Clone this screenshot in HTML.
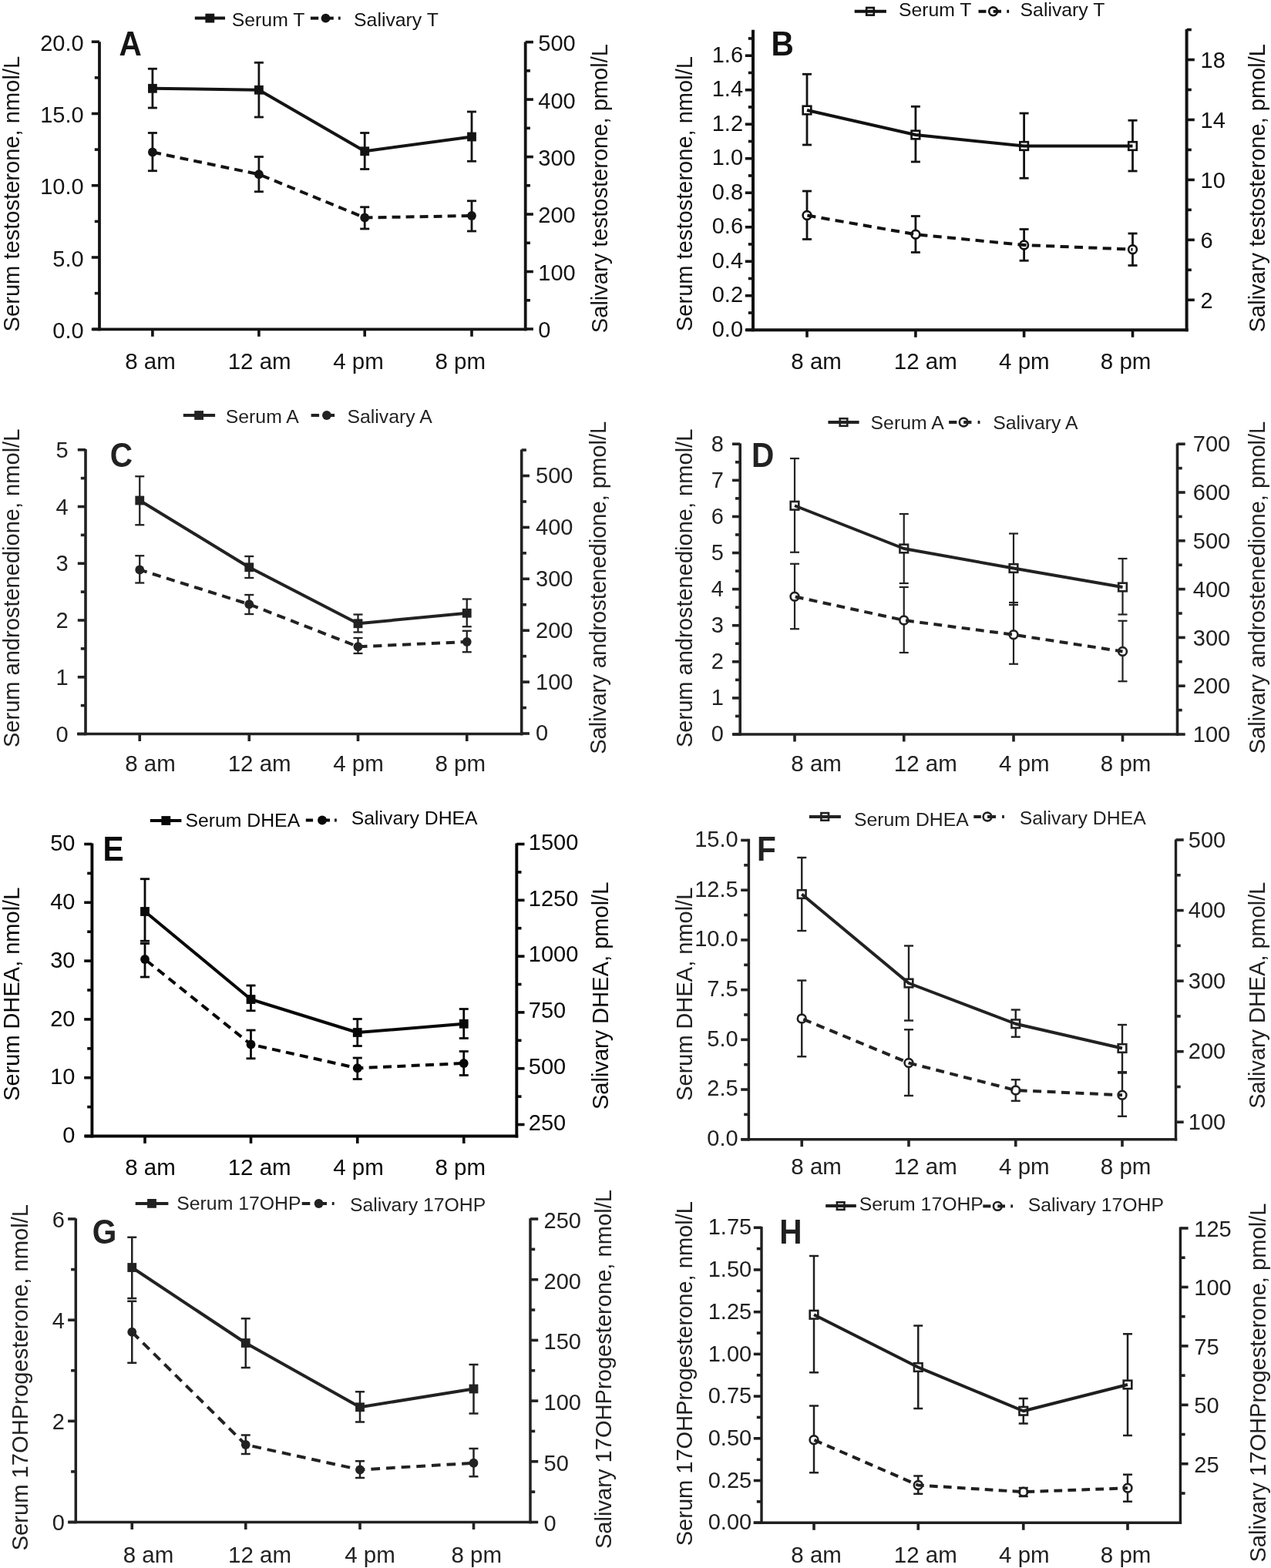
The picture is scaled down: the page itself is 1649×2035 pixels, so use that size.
<!DOCTYPE html>
<html><head><meta charset="utf-8"><title>Figure</title>
<style>
html,body{margin:0;padding:0;background:#fff;}
svg{display:block;}
text{font-family:"Liberation Sans",Arial,Helvetica,sans-serif;fill:currentColor;stroke:none;}
</style></head>
<body>
<svg width="1649" height="2035" viewBox="0 0 1649 2035">
<rect width="1649" height="2035" fill="#fff"/>
<g fill="none" stroke-linecap="butt">
<g stroke="#141414" style="color:#141414">
<line x1="129" y1="54.2" x2="129" y2="429.2" stroke-width="3.8"/>
<line x1="681.7" y1="54.6" x2="681.7" y2="429.2" stroke-width="3.8"/>
<line x1="120" y1="427.3" x2="683.6" y2="427.3" stroke-width="3.8"/>
<line x1="118.8" y1="427.3" x2="129" y2="427.3" stroke-width="3.6"/>
<line x1="118.8" y1="334.02" x2="129" y2="334.02" stroke-width="3.6"/>
<line x1="118.8" y1="240.75" x2="129" y2="240.75" stroke-width="3.6"/>
<line x1="118.8" y1="147.47" x2="129" y2="147.47" stroke-width="3.6"/>
<line x1="118.8" y1="54.2" x2="129" y2="54.2" stroke-width="3.6"/>
<line x1="122.8" y1="380.66" x2="129" y2="380.66" stroke-width="3.6"/>
<line x1="122.8" y1="287.39" x2="129" y2="287.39" stroke-width="3.6"/>
<line x1="122.8" y1="194.11" x2="129" y2="194.11" stroke-width="3.6"/>
<line x1="122.8" y1="100.84" x2="129" y2="100.84" stroke-width="3.6"/>
<line x1="681.7" y1="427" x2="691.9" y2="427" stroke-width="3.6"/>
<line x1="681.7" y1="352.52" x2="691.9" y2="352.52" stroke-width="3.6"/>
<line x1="681.7" y1="278.04" x2="691.9" y2="278.04" stroke-width="3.6"/>
<line x1="681.7" y1="203.56" x2="691.9" y2="203.56" stroke-width="3.6"/>
<line x1="681.7" y1="129.08" x2="691.9" y2="129.08" stroke-width="3.6"/>
<line x1="681.7" y1="54.6" x2="691.9" y2="54.6" stroke-width="3.6"/>
<line x1="681.7" y1="389.76" x2="687.9" y2="389.76" stroke-width="3.6"/>
<line x1="681.7" y1="315.28" x2="687.9" y2="315.28" stroke-width="3.6"/>
<line x1="681.7" y1="240.8" x2="687.9" y2="240.8" stroke-width="3.6"/>
<line x1="681.7" y1="166.32" x2="687.9" y2="166.32" stroke-width="3.6"/>
<line x1="681.7" y1="91.84" x2="687.9" y2="91.84" stroke-width="3.6"/>
<line x1="197.9" y1="427.3" x2="197.9" y2="436.8" stroke-width="3.6"/>
<line x1="335.9" y1="427.3" x2="335.9" y2="436.8" stroke-width="3.6"/>
<line x1="473.2" y1="427.3" x2="473.2" y2="436.8" stroke-width="3.6"/>
<line x1="612" y1="427.3" x2="612" y2="436.8" stroke-width="3.6"/>
<text x="108.6" y="438.85" font-size="29" text-anchor="end">0.0</text>
<text x="108.6" y="345.57" font-size="29" text-anchor="end">5.0</text>
<text x="108.6" y="252.3" font-size="29" text-anchor="end">10.0</text>
<text x="108.6" y="159.02" font-size="29" text-anchor="end">15.0</text>
<text x="108.6" y="65.75" font-size="29" text-anchor="end">20.0</text>
<text x="698.34" y="438.45" font-size="29">0</text>
<text x="698.34" y="363.97" font-size="29">100</text>
<text x="698.34" y="289.49" font-size="29">200</text>
<text x="698.34" y="215.01" font-size="29">300</text>
<text x="698.34" y="140.53" font-size="29">400</text>
<text x="698.34" y="66.05" font-size="29">500</text>
<text x="162.27" y="479" font-size="29.5">8 am</text>
<text x="295.69" y="479" font-size="29.5">12 am</text>
<text x="432.26" y="479" font-size="29.5">4 pm</text>
<text x="564.47" y="479" font-size="29.5">8 pm</text>
<text transform="translate(24.6,430.41) rotate(-90)" font-size="29.11">Serum testosterone, nmol/L</text>
<text transform="translate(787.9,432.21) rotate(-90)" font-size="29.1">Salivary testosterone, pmol/L</text>
<text transform="translate(154.49,71.9) scale(0.91,1)" font-size="44.6" font-weight="bold">A</text>
<line x1="252.8" y1="23.6" x2="292" y2="23.6" stroke-width="4"/>
<rect x="266.4" y="17.7" width="11.8" height="11.8" fill="currentColor" stroke="none"/>
<text x="300.78" y="34.3" font-size="24.8">Serum T</text>
<line x1="402.9" y1="23.6" x2="413.2" y2="23.6" stroke-width="4" stroke-linecap="butt"/>
<line x1="422.5" y1="23.6" x2="432.8" y2="23.6" stroke-width="4"/>
<circle cx="422.5" cy="23.6" r="5.9" fill="currentColor" stroke="none"/>
<line x1="438.9" y1="23.6" x2="441.7" y2="23.6" stroke-width="4"/>
<text x="459.08" y="34.3" font-size="24.8">Salivary T</text>
<line x1="197.9" y1="89.25" x2="197.9" y2="140" stroke-width="2.8"/>
<line x1="191.9" y1="89.25" x2="203.9" y2="89.25" stroke-width="2.8"/>
<line x1="191.9" y1="140" x2="203.9" y2="140" stroke-width="2.8"/>
<line x1="335.9" y1="81.25" x2="335.9" y2="152" stroke-width="2.8"/>
<line x1="329.9" y1="81.25" x2="341.9" y2="81.25" stroke-width="2.8"/>
<line x1="329.9" y1="152" x2="341.9" y2="152" stroke-width="2.8"/>
<line x1="473.2" y1="172.5" x2="473.2" y2="219.5" stroke-width="2.8"/>
<line x1="467.2" y1="172.5" x2="479.2" y2="172.5" stroke-width="2.8"/>
<line x1="467.2" y1="219.5" x2="479.2" y2="219.5" stroke-width="2.8"/>
<line x1="612" y1="145" x2="612" y2="209.25" stroke-width="2.8"/>
<line x1="606" y1="145" x2="618" y2="145" stroke-width="2.8"/>
<line x1="606" y1="209.25" x2="618" y2="209.25" stroke-width="2.8"/>
<line x1="197.9" y1="172.5" x2="197.9" y2="221.75" stroke-width="2.8"/>
<line x1="191.9" y1="172.5" x2="203.9" y2="172.5" stroke-width="2.8"/>
<line x1="191.9" y1="221.75" x2="203.9" y2="221.75" stroke-width="2.8"/>
<line x1="335.9" y1="203.5" x2="335.9" y2="248.75" stroke-width="2.8"/>
<line x1="329.9" y1="203.5" x2="341.9" y2="203.5" stroke-width="2.8"/>
<line x1="329.9" y1="248.75" x2="341.9" y2="248.75" stroke-width="2.8"/>
<line x1="473.2" y1="268.75" x2="473.2" y2="297" stroke-width="2.8"/>
<line x1="467.2" y1="268.75" x2="479.2" y2="268.75" stroke-width="2.8"/>
<line x1="467.2" y1="297" x2="479.2" y2="297" stroke-width="2.8"/>
<line x1="612" y1="260.75" x2="612" y2="300" stroke-width="2.8"/>
<line x1="606" y1="260.75" x2="618" y2="260.75" stroke-width="2.8"/>
<line x1="606" y1="300" x2="618" y2="300" stroke-width="2.8"/>
<rect x="192" y="108.9" width="11.8" height="11.8" fill="currentColor" stroke="none"/>
<rect x="330" y="110.85" width="11.8" height="11.8" fill="currentColor" stroke="none"/>
<rect x="467.3" y="190.35" width="11.8" height="11.8" fill="currentColor" stroke="none"/>
<rect x="606.1" y="171.6" width="11.8" height="11.8" fill="currentColor" stroke="none"/>
<polyline points="197.9,114.8 335.9,116.75 473.2,196.25 612,177.5" stroke-width="4.0" stroke-linejoin="round"/>
<circle cx="197.9" cy="197.5" r="5.9" fill="currentColor" stroke="none"/>
<circle cx="335.9" cy="226.25" r="5.9" fill="currentColor" stroke="none"/>
<circle cx="473.2" cy="282.5" r="5.9" fill="currentColor" stroke="none"/>
<circle cx="612" cy="280" r="5.9" fill="currentColor" stroke="none"/>
<polyline points="197.9,197.5 335.9,226.25 473.2,282.5 612,280" stroke-width="4.0" stroke-linejoin="round" stroke-dasharray="10.92,7.1" stroke-dashoffset="17.65"/>
</g>
<g stroke="#121212" style="color:#121212">
<line x1="977" y1="38.75" x2="977" y2="430.25" stroke-width="4"/>
<line x1="1539.6" y1="38" x2="1539.6" y2="430.25" stroke-width="4"/>
<line x1="967.75" y1="428.25" x2="1541.6" y2="428.25" stroke-width="4"/>
<line x1="966.8" y1="428.25" x2="977" y2="428.25" stroke-width="3.6"/>
<line x1="966.8" y1="383.74" x2="977" y2="383.74" stroke-width="3.6"/>
<line x1="966.8" y1="339.24" x2="977" y2="339.24" stroke-width="3.6"/>
<line x1="966.8" y1="294.73" x2="977" y2="294.73" stroke-width="3.6"/>
<line x1="966.8" y1="250.22" x2="977" y2="250.22" stroke-width="3.6"/>
<line x1="966.8" y1="205.72" x2="977" y2="205.72" stroke-width="3.6"/>
<line x1="966.8" y1="161.21" x2="977" y2="161.21" stroke-width="3.6"/>
<line x1="966.8" y1="116.71" x2="977" y2="116.71" stroke-width="3.6"/>
<line x1="966.8" y1="72.2" x2="977" y2="72.2" stroke-width="3.6"/>
<line x1="970.8" y1="406" x2="977" y2="406" stroke-width="3.6"/>
<line x1="970.8" y1="361.49" x2="977" y2="361.49" stroke-width="3.6"/>
<line x1="970.8" y1="316.98" x2="977" y2="316.98" stroke-width="3.6"/>
<line x1="970.8" y1="272.48" x2="977" y2="272.48" stroke-width="3.6"/>
<line x1="970.8" y1="227.97" x2="977" y2="227.97" stroke-width="3.6"/>
<line x1="970.8" y1="183.47" x2="977" y2="183.47" stroke-width="3.6"/>
<line x1="970.8" y1="138.96" x2="977" y2="138.96" stroke-width="3.6"/>
<line x1="970.8" y1="94.45" x2="977" y2="94.45" stroke-width="3.6"/>
<line x1="970.8" y1="49.95" x2="977" y2="49.95" stroke-width="3.6"/>
<line x1="1539.6" y1="389.28" x2="1549.8" y2="389.28" stroke-width="3.6"/>
<line x1="1539.6" y1="311.33" x2="1549.8" y2="311.33" stroke-width="3.6"/>
<line x1="1539.6" y1="233.39" x2="1549.8" y2="233.39" stroke-width="3.6"/>
<line x1="1539.6" y1="155.44" x2="1549.8" y2="155.44" stroke-width="3.6"/>
<line x1="1539.6" y1="77.5" x2="1549.8" y2="77.5" stroke-width="3.6"/>
<line x1="1539.6" y1="350.31" x2="1545.8" y2="350.31" stroke-width="3.6"/>
<line x1="1539.6" y1="272.36" x2="1545.8" y2="272.36" stroke-width="3.6"/>
<line x1="1539.6" y1="194.42" x2="1545.8" y2="194.42" stroke-width="3.6"/>
<line x1="1539.6" y1="116.47" x2="1545.8" y2="116.47" stroke-width="3.6"/>
<line x1="1539.6" y1="38.53" x2="1545.8" y2="38.53" stroke-width="3.6"/>
<line x1="1047" y1="428.25" x2="1047" y2="437.75" stroke-width="3.6"/>
<line x1="1187.9" y1="428.25" x2="1187.9" y2="437.75" stroke-width="3.6"/>
<line x1="1328.6" y1="428.25" x2="1328.6" y2="437.75" stroke-width="3.6"/>
<line x1="1469.5" y1="428.25" x2="1469.5" y2="437.75" stroke-width="3.6"/>
<text x="964.06" y="436.85" font-size="29" text-anchor="end">0.0</text>
<text x="964.06" y="392.34" font-size="29" text-anchor="end">0.2</text>
<text x="964.06" y="347.84" font-size="29" text-anchor="end">0.4</text>
<text x="964.06" y="303.33" font-size="29" text-anchor="end">0.6</text>
<text x="964.06" y="258.82" font-size="29" text-anchor="end">0.8</text>
<text x="964.06" y="214.32" font-size="29" text-anchor="end">1.0</text>
<text x="964.06" y="169.81" font-size="29" text-anchor="end">1.2</text>
<text x="964.06" y="125.31" font-size="29" text-anchor="end">1.4</text>
<text x="964.06" y="80.8" font-size="29" text-anchor="end">1.6</text>
<text x="1557.58" y="399.78" font-size="29">2</text>
<text x="1557.58" y="321.83" font-size="29">6</text>
<text x="1557.58" y="243.89" font-size="29">10</text>
<text x="1557.58" y="165.94" font-size="29">14</text>
<text x="1557.58" y="88" font-size="29">18</text>
<text x="1026.37" y="479.1" font-size="29.5">8 am</text>
<text x="1159.79" y="479.1" font-size="29.5">12 am</text>
<text x="1296.06" y="479.1" font-size="29.5">4 pm</text>
<text x="1427.87" y="479.1" font-size="29.5">8 pm</text>
<text transform="translate(898.3,430.06) rotate(-90)" font-size="29.07">Serum testosterone, nmol/L</text>
<text transform="translate(1641,431.31) rotate(-90)" font-size="29.02">Salivary testosterone, pmol/L</text>
<text transform="translate(1000.46,71.75) scale(0.91,1)" font-size="44.6" font-weight="bold">B</text>
<line x1="1108.7" y1="14.8" x2="1149.9" y2="14.8" stroke-width="4"/>
<rect x="1124.2" y="10" width="9.6" height="9.6" fill="none" stroke-width="2.6"/>
<text x="1165.88" y="20.6" font-size="24.8">Serum T</text>
<line x1="1269.5" y1="14.8" x2="1279.4" y2="14.8" stroke-width="4" stroke-linecap="butt"/>
<line x1="1288.6" y1="14.8" x2="1299" y2="14.8" stroke-width="4"/>
<circle cx="1288.6" cy="14.8" r="5.4" fill="none" stroke-width="2.6"/>
<line x1="1306.3" y1="14.8" x2="1309.1" y2="14.8" stroke-width="4"/>
<text x="1323.58" y="20.6" font-size="24.8">Salivary T</text>
<line x1="1047" y1="96.25" x2="1047" y2="188" stroke-width="2.8"/>
<line x1="1041" y1="96.25" x2="1053" y2="96.25" stroke-width="2.8"/>
<line x1="1041" y1="188" x2="1053" y2="188" stroke-width="2.8"/>
<line x1="1187.9" y1="138.25" x2="1187.9" y2="210" stroke-width="2.8"/>
<line x1="1181.9" y1="138.25" x2="1193.9" y2="138.25" stroke-width="2.8"/>
<line x1="1181.9" y1="210" x2="1193.9" y2="210" stroke-width="2.8"/>
<line x1="1328.6" y1="147" x2="1328.6" y2="231.25" stroke-width="2.8"/>
<line x1="1322.6" y1="147" x2="1334.6" y2="147" stroke-width="2.8"/>
<line x1="1322.6" y1="231.25" x2="1334.6" y2="231.25" stroke-width="2.8"/>
<line x1="1469.5" y1="156.25" x2="1469.5" y2="222" stroke-width="2.8"/>
<line x1="1463.5" y1="156.25" x2="1475.5" y2="156.25" stroke-width="2.8"/>
<line x1="1463.5" y1="222" x2="1475.5" y2="222" stroke-width="2.8"/>
<line x1="1047" y1="248" x2="1047" y2="310.5" stroke-width="2.8"/>
<line x1="1041" y1="248" x2="1053" y2="248" stroke-width="2.8"/>
<line x1="1041" y1="310.5" x2="1053" y2="310.5" stroke-width="2.8"/>
<line x1="1187.9" y1="280.5" x2="1187.9" y2="327.5" stroke-width="2.8"/>
<line x1="1181.9" y1="280.5" x2="1193.9" y2="280.5" stroke-width="2.8"/>
<line x1="1181.9" y1="327.5" x2="1193.9" y2="327.5" stroke-width="2.8"/>
<line x1="1328.6" y1="297.5" x2="1328.6" y2="338.25" stroke-width="2.8"/>
<line x1="1322.6" y1="297.5" x2="1334.6" y2="297.5" stroke-width="2.8"/>
<line x1="1322.6" y1="338.25" x2="1334.6" y2="338.25" stroke-width="2.8"/>
<line x1="1469.5" y1="303" x2="1469.5" y2="344.5" stroke-width="2.8"/>
<line x1="1463.5" y1="303" x2="1475.5" y2="303" stroke-width="2.8"/>
<line x1="1463.5" y1="344.5" x2="1475.5" y2="344.5" stroke-width="2.8"/>
<rect x="1041.7" y="137.7" width="10.6" height="10.6" fill="#fff" stroke-width="2.6"/>
<rect x="1182.6" y="169.7" width="10.6" height="10.6" fill="#fff" stroke-width="2.6"/>
<rect x="1323.3" y="184.2" width="10.6" height="10.6" fill="#fff" stroke-width="2.6"/>
<rect x="1464.2" y="184.2" width="10.6" height="10.6" fill="#fff" stroke-width="2.6"/>
<polyline points="1047,143 1187.9,175 1328.6,189.5 1469.5,189.5" stroke-width="4.0" stroke-linejoin="round"/>
<circle cx="1047" cy="279.5" r="5.4" fill="#fff" stroke-width="2.6"/>
<circle cx="1187.9" cy="304.25" r="5.4" fill="#fff" stroke-width="2.6"/>
<circle cx="1328.6" cy="318" r="5.4" fill="#fff" stroke-width="2.6"/>
<circle cx="1469.5" cy="323.75" r="5.4" fill="#fff" stroke-width="2.6"/>
<polyline points="1047,279.5 1187.9,304.25 1328.6,318 1469.5,323.75" stroke-width="4.0" stroke-linejoin="round" stroke-dasharray="11.12,7.27" stroke-dashoffset="18.01"/>
</g>
<g stroke="#222222" style="color:#222222">
<line x1="111" y1="583" x2="111" y2="954.3" stroke-width="3.6"/>
<line x1="676.7" y1="583.5" x2="676.7" y2="954.3" stroke-width="3.6"/>
<line x1="100" y1="952.5" x2="678.5" y2="952.5" stroke-width="3.6"/>
<line x1="100.8" y1="952.5" x2="111" y2="952.5" stroke-width="3.6"/>
<line x1="100.8" y1="878.75" x2="111" y2="878.75" stroke-width="3.6"/>
<line x1="100.8" y1="805" x2="111" y2="805" stroke-width="3.6"/>
<line x1="100.8" y1="731.25" x2="111" y2="731.25" stroke-width="3.6"/>
<line x1="100.8" y1="657.5" x2="111" y2="657.5" stroke-width="3.6"/>
<line x1="100.8" y1="583.75" x2="111" y2="583.75" stroke-width="3.6"/>
<line x1="104.8" y1="915.62" x2="111" y2="915.62" stroke-width="3.6"/>
<line x1="104.8" y1="841.88" x2="111" y2="841.88" stroke-width="3.6"/>
<line x1="104.8" y1="768.12" x2="111" y2="768.12" stroke-width="3.6"/>
<line x1="104.8" y1="694.38" x2="111" y2="694.38" stroke-width="3.6"/>
<line x1="104.8" y1="620.62" x2="111" y2="620.62" stroke-width="3.6"/>
<line x1="676.7" y1="952" x2="686.9" y2="952" stroke-width="3.6"/>
<line x1="676.7" y1="885.1" x2="686.9" y2="885.1" stroke-width="3.6"/>
<line x1="676.7" y1="818.2" x2="686.9" y2="818.2" stroke-width="3.6"/>
<line x1="676.7" y1="751.3" x2="686.9" y2="751.3" stroke-width="3.6"/>
<line x1="676.7" y1="684.4" x2="686.9" y2="684.4" stroke-width="3.6"/>
<line x1="676.7" y1="617.5" x2="686.9" y2="617.5" stroke-width="3.6"/>
<line x1="676.7" y1="918.55" x2="682.9" y2="918.55" stroke-width="3.6"/>
<line x1="676.7" y1="851.65" x2="682.9" y2="851.65" stroke-width="3.6"/>
<line x1="676.7" y1="784.75" x2="682.9" y2="784.75" stroke-width="3.6"/>
<line x1="676.7" y1="717.85" x2="682.9" y2="717.85" stroke-width="3.6"/>
<line x1="676.7" y1="650.95" x2="682.9" y2="650.95" stroke-width="3.6"/>
<line x1="676.7" y1="584.05" x2="682.9" y2="584.05" stroke-width="3.6"/>
<line x1="181.25" y1="952.5" x2="181.25" y2="962" stroke-width="3.6"/>
<line x1="323.25" y1="952.5" x2="323.25" y2="962" stroke-width="3.6"/>
<line x1="464.5" y1="952.5" x2="464.5" y2="962" stroke-width="3.6"/>
<line x1="605.75" y1="952.5" x2="605.75" y2="962" stroke-width="3.6"/>
<text x="88.69" y="962.7" font-size="29" text-anchor="end">0</text>
<text x="88.69" y="888.95" font-size="29" text-anchor="end">1</text>
<text x="88.69" y="815.2" font-size="29" text-anchor="end">2</text>
<text x="88.69" y="741.45" font-size="29" text-anchor="end">3</text>
<text x="88.69" y="667.7" font-size="29" text-anchor="end">4</text>
<text x="88.69" y="593.95" font-size="29" text-anchor="end">5</text>
<text x="695.09" y="961.4" font-size="29">0</text>
<text x="695.09" y="894.5" font-size="29">100</text>
<text x="695.09" y="827.6" font-size="29">200</text>
<text x="695.09" y="760.7" font-size="29">300</text>
<text x="695.09" y="693.8" font-size="29">400</text>
<text x="695.09" y="626.9" font-size="29">500</text>
<text x="162.27" y="1001.2" font-size="29.5">8 am</text>
<text x="295.69" y="1001.2" font-size="29.5">12 am</text>
<text x="432.26" y="1001.2" font-size="29.5">4 pm</text>
<text x="564.47" y="1001.2" font-size="29.5">8 pm</text>
<text transform="translate(24.6,970.06) rotate(-90)" font-size="29.05">Serum androstenedione, nmol/L</text>
<text transform="translate(786,978.81) rotate(-90)" font-size="29.12">Salivary androstenedione, pmol/L</text>
<text transform="translate(142.63,606.25) scale(0.91,1)" font-size="44.6" font-weight="bold">C</text>
<line x1="237.8" y1="539" x2="279.1" y2="539" stroke-width="4"/>
<rect x="252.2" y="533.1" width="11.8" height="11.8" fill="currentColor" stroke="none"/>
<text x="292.78" y="548.5" font-size="24.8">Serum A</text>
<line x1="403.6" y1="539" x2="414.1" y2="539" stroke-width="4" stroke-linecap="butt"/>
<line x1="423.9" y1="539" x2="434.1" y2="539" stroke-width="4"/>
<circle cx="423.9" cy="539" r="5.9" fill="currentColor" stroke="none"/>
<text x="450.48" y="548.5" font-size="24.8">Salivary A</text>
<line x1="181.25" y1="618.25" x2="181.25" y2="681.25" stroke-width="2.3"/>
<line x1="175.25" y1="618.25" x2="187.25" y2="618.25" stroke-width="2.3"/>
<line x1="175.25" y1="681.25" x2="187.25" y2="681.25" stroke-width="2.3"/>
<line x1="323.25" y1="722" x2="323.25" y2="750" stroke-width="2.3"/>
<line x1="317.25" y1="722" x2="329.25" y2="722" stroke-width="2.3"/>
<line x1="317.25" y1="750" x2="329.25" y2="750" stroke-width="2.3"/>
<line x1="464.5" y1="797.5" x2="464.5" y2="820.5" stroke-width="2.3"/>
<line x1="458.5" y1="797.5" x2="470.5" y2="797.5" stroke-width="2.3"/>
<line x1="458.5" y1="820.5" x2="470.5" y2="820.5" stroke-width="2.3"/>
<line x1="605.75" y1="777.5" x2="605.75" y2="813.25" stroke-width="2.3"/>
<line x1="599.75" y1="777.5" x2="611.75" y2="777.5" stroke-width="2.3"/>
<line x1="599.75" y1="813.25" x2="611.75" y2="813.25" stroke-width="2.3"/>
<line x1="181.25" y1="721.25" x2="181.25" y2="756.5" stroke-width="2.3"/>
<line x1="175.25" y1="721.25" x2="187.25" y2="721.25" stroke-width="2.3"/>
<line x1="175.25" y1="756.5" x2="187.25" y2="756.5" stroke-width="2.3"/>
<line x1="323.25" y1="772" x2="323.25" y2="797" stroke-width="2.3"/>
<line x1="317.25" y1="772" x2="329.25" y2="772" stroke-width="2.3"/>
<line x1="317.25" y1="797" x2="329.25" y2="797" stroke-width="2.3"/>
<line x1="464.5" y1="828" x2="464.5" y2="848" stroke-width="2.3"/>
<line x1="458.5" y1="828" x2="470.5" y2="828" stroke-width="2.3"/>
<line x1="458.5" y1="848" x2="470.5" y2="848" stroke-width="2.3"/>
<line x1="605.75" y1="818.75" x2="605.75" y2="846.25" stroke-width="2.3"/>
<line x1="599.75" y1="818.75" x2="611.75" y2="818.75" stroke-width="2.3"/>
<line x1="599.75" y1="846.25" x2="611.75" y2="846.25" stroke-width="2.3"/>
<rect x="175.35" y="643.6" width="11.8" height="11.8" fill="currentColor" stroke="none"/>
<rect x="317.35" y="730.35" width="11.8" height="11.8" fill="currentColor" stroke="none"/>
<rect x="458.6" y="803.35" width="11.8" height="11.8" fill="currentColor" stroke="none"/>
<rect x="599.85" y="789.85" width="11.8" height="11.8" fill="currentColor" stroke="none"/>
<polyline points="181.25,649.5 323.25,736.25 464.5,809.25 605.75,795.75" stroke-width="4.0" stroke-linejoin="round"/>
<circle cx="181.25" cy="739.5" r="5.9" fill="currentColor" stroke="none"/>
<circle cx="323.25" cy="784.25" r="5.9" fill="currentColor" stroke="none"/>
<circle cx="464.5" cy="839.25" r="5.9" fill="currentColor" stroke="none"/>
<circle cx="605.75" cy="833" r="5.9" fill="currentColor" stroke="none"/>
<polyline points="181.25,739.5 323.25,784.25 464.5,839.25 605.75,833" stroke-width="4.0" stroke-linejoin="round" stroke-dasharray="11.23,7.69" stroke-dashoffset="1.46"/>
</g>
<g stroke="#222222" style="color:#222222">
<line x1="960.2" y1="575.5" x2="960.2" y2="954.8" stroke-width="3.6"/>
<line x1="1527.5" y1="575.5" x2="1527.5" y2="954.8" stroke-width="3.6"/>
<line x1="951" y1="953" x2="1529.3" y2="953" stroke-width="3.6"/>
<line x1="950" y1="953" x2="960.2" y2="953" stroke-width="3.6"/>
<line x1="950" y1="905.91" x2="960.2" y2="905.91" stroke-width="3.6"/>
<line x1="950" y1="858.81" x2="960.2" y2="858.81" stroke-width="3.6"/>
<line x1="950" y1="811.72" x2="960.2" y2="811.72" stroke-width="3.6"/>
<line x1="950" y1="764.62" x2="960.2" y2="764.62" stroke-width="3.6"/>
<line x1="950" y1="717.53" x2="960.2" y2="717.53" stroke-width="3.6"/>
<line x1="950" y1="670.44" x2="960.2" y2="670.44" stroke-width="3.6"/>
<line x1="950" y1="623.34" x2="960.2" y2="623.34" stroke-width="3.6"/>
<line x1="950" y1="576.25" x2="960.2" y2="576.25" stroke-width="3.6"/>
<line x1="954" y1="929.45" x2="960.2" y2="929.45" stroke-width="3.6"/>
<line x1="954" y1="882.36" x2="960.2" y2="882.36" stroke-width="3.6"/>
<line x1="954" y1="835.27" x2="960.2" y2="835.27" stroke-width="3.6"/>
<line x1="954" y1="788.17" x2="960.2" y2="788.17" stroke-width="3.6"/>
<line x1="954" y1="741.08" x2="960.2" y2="741.08" stroke-width="3.6"/>
<line x1="954" y1="693.98" x2="960.2" y2="693.98" stroke-width="3.6"/>
<line x1="954" y1="646.89" x2="960.2" y2="646.89" stroke-width="3.6"/>
<line x1="954" y1="599.8" x2="960.2" y2="599.8" stroke-width="3.6"/>
<line x1="1527.5" y1="953" x2="1537.7" y2="953" stroke-width="3.6"/>
<line x1="1527.5" y1="890.21" x2="1537.7" y2="890.21" stroke-width="3.6"/>
<line x1="1527.5" y1="827.42" x2="1537.7" y2="827.42" stroke-width="3.6"/>
<line x1="1527.5" y1="764.62" x2="1537.7" y2="764.62" stroke-width="3.6"/>
<line x1="1527.5" y1="701.83" x2="1537.7" y2="701.83" stroke-width="3.6"/>
<line x1="1527.5" y1="639.04" x2="1537.7" y2="639.04" stroke-width="3.6"/>
<line x1="1527.5" y1="576.25" x2="1537.7" y2="576.25" stroke-width="3.6"/>
<line x1="1527.5" y1="921.6" x2="1533.7" y2="921.6" stroke-width="3.6"/>
<line x1="1527.5" y1="858.81" x2="1533.7" y2="858.81" stroke-width="3.6"/>
<line x1="1527.5" y1="796.02" x2="1533.7" y2="796.02" stroke-width="3.6"/>
<line x1="1527.5" y1="733.23" x2="1533.7" y2="733.23" stroke-width="3.6"/>
<line x1="1527.5" y1="670.44" x2="1533.7" y2="670.44" stroke-width="3.6"/>
<line x1="1527.5" y1="607.65" x2="1533.7" y2="607.65" stroke-width="3.6"/>
<line x1="1031" y1="953" x2="1031" y2="962.5" stroke-width="3.6"/>
<line x1="1172.75" y1="953" x2="1172.75" y2="962.5" stroke-width="3.6"/>
<line x1="1315" y1="953" x2="1315" y2="962.5" stroke-width="3.6"/>
<line x1="1456.5" y1="953" x2="1456.5" y2="962.5" stroke-width="3.6"/>
<text x="938.94" y="962.25" font-size="29" text-anchor="end">0</text>
<text x="938.94" y="915.16" font-size="29" text-anchor="end">1</text>
<text x="938.94" y="868.06" font-size="29" text-anchor="end">2</text>
<text x="938.94" y="820.97" font-size="29" text-anchor="end">3</text>
<text x="938.94" y="773.88" font-size="29" text-anchor="end">4</text>
<text x="938.94" y="726.78" font-size="29" text-anchor="end">5</text>
<text x="938.94" y="679.69" font-size="29" text-anchor="end">6</text>
<text x="938.94" y="632.59" font-size="29" text-anchor="end">7</text>
<text x="938.94" y="585.5" font-size="29" text-anchor="end">8</text>
<text x="1547.8" y="963.15" font-size="29">100</text>
<text x="1547.8" y="900.36" font-size="29">200</text>
<text x="1547.8" y="837.57" font-size="29">300</text>
<text x="1547.8" y="774.77" font-size="29">400</text>
<text x="1547.8" y="711.98" font-size="29">500</text>
<text x="1547.8" y="649.19" font-size="29">600</text>
<text x="1547.8" y="586.4" font-size="29">700</text>
<text x="1026.37" y="1000.6" font-size="29.5">8 am</text>
<text x="1159.79" y="1000.6" font-size="29.5">12 am</text>
<text x="1296.06" y="1000.6" font-size="29.5">4 pm</text>
<text x="1427.87" y="1000.6" font-size="29.5">8 pm</text>
<text transform="translate(898.3,970.06) rotate(-90)" font-size="29.05">Serum androstenedione, nmol/L</text>
<text transform="translate(1640.5,978.31) rotate(-90)" font-size="29.09">Salivary androstenedione, pmol/L</text>
<text transform="translate(975.11,606.25) scale(0.91,1)" font-size="44.6" font-weight="bold">D</text>
<line x1="1074.4" y1="548" x2="1114.6" y2="548" stroke-width="4"/>
<rect x="1089.7" y="543.2" width="9.6" height="9.6" fill="none" stroke-width="2.6"/>
<text x="1129.58" y="557.3" font-size="24.8">Serum A</text>
<line x1="1231.1" y1="548" x2="1241.4" y2="548" stroke-width="4" stroke-linecap="butt"/>
<line x1="1250.2" y1="548" x2="1260.4" y2="548" stroke-width="4"/>
<circle cx="1250.2" cy="548" r="5.4" fill="none" stroke-width="2.6"/>
<line x1="1268.6" y1="548" x2="1271.4" y2="548" stroke-width="4"/>
<text x="1288.18" y="557.3" font-size="24.8">Salivary A</text>
<line x1="1031" y1="595" x2="1031" y2="716.75" stroke-width="2.2"/>
<line x1="1025" y1="595" x2="1037" y2="595" stroke-width="2.2"/>
<line x1="1025" y1="716.75" x2="1037" y2="716.75" stroke-width="2.2"/>
<line x1="1172.75" y1="667" x2="1172.75" y2="757" stroke-width="2.2"/>
<line x1="1166.75" y1="667" x2="1178.75" y2="667" stroke-width="2.2"/>
<line x1="1166.75" y1="757" x2="1178.75" y2="757" stroke-width="2.2"/>
<line x1="1315" y1="692.5" x2="1315" y2="785" stroke-width="2.2"/>
<line x1="1309" y1="692.5" x2="1321" y2="692.5" stroke-width="2.2"/>
<line x1="1309" y1="785" x2="1321" y2="785" stroke-width="2.2"/>
<line x1="1456.5" y1="725" x2="1456.5" y2="797.5" stroke-width="2.2"/>
<line x1="1450.5" y1="725" x2="1462.5" y2="725" stroke-width="2.2"/>
<line x1="1450.5" y1="797.5" x2="1462.5" y2="797.5" stroke-width="2.2"/>
<line x1="1031" y1="731.75" x2="1031" y2="816.25" stroke-width="2.2"/>
<line x1="1025" y1="731.75" x2="1037" y2="731.75" stroke-width="2.2"/>
<line x1="1025" y1="816.25" x2="1037" y2="816.25" stroke-width="2.2"/>
<line x1="1172.75" y1="762" x2="1172.75" y2="847" stroke-width="2.2"/>
<line x1="1166.75" y1="762" x2="1178.75" y2="762" stroke-width="2.2"/>
<line x1="1166.75" y1="847" x2="1178.75" y2="847" stroke-width="2.2"/>
<line x1="1315" y1="782" x2="1315" y2="861.75" stroke-width="2.2"/>
<line x1="1309" y1="782" x2="1321" y2="782" stroke-width="2.2"/>
<line x1="1309" y1="861.75" x2="1321" y2="861.75" stroke-width="2.2"/>
<line x1="1456.5" y1="805.75" x2="1456.5" y2="884.25" stroke-width="2.2"/>
<line x1="1450.5" y1="805.75" x2="1462.5" y2="805.75" stroke-width="2.2"/>
<line x1="1450.5" y1="884.25" x2="1462.5" y2="884.25" stroke-width="2.2"/>
<rect x="1025.7" y="650.95" width="10.6" height="10.6" fill="#fff" stroke-width="2.6"/>
<rect x="1167.45" y="706.7" width="10.6" height="10.6" fill="#fff" stroke-width="2.6"/>
<rect x="1309.7" y="732.2" width="10.6" height="10.6" fill="#fff" stroke-width="2.6"/>
<rect x="1451.2" y="756.7" width="10.6" height="10.6" fill="#fff" stroke-width="2.6"/>
<polyline points="1031,656.25 1172.75,712 1315,737.5 1456.5,762" stroke-width="4.0" stroke-linejoin="round"/>
<circle cx="1031" cy="774.25" r="5.4" fill="#fff" stroke-width="2.6"/>
<circle cx="1172.75" cy="805" r="5.4" fill="#fff" stroke-width="2.6"/>
<circle cx="1315" cy="823.75" r="5.4" fill="#fff" stroke-width="2.6"/>
<circle cx="1456.5" cy="845.5" r="5.4" fill="#fff" stroke-width="2.6"/>
<polyline points="1031,774.25 1172.75,805 1315,823.75 1456.5,845.5" stroke-width="4.0" stroke-linejoin="round" stroke-dasharray="10.87,7.45" stroke-dashoffset="17.51"/>
</g>
<g stroke="#080808" style="color:#080808">
<line x1="119.4" y1="1094.5" x2="119.4" y2="1476.45" stroke-width="3.9"/>
<line x1="670.3" y1="1094.5" x2="670.3" y2="1476.45" stroke-width="3.9"/>
<line x1="110" y1="1474.5" x2="672.25" y2="1474.5" stroke-width="3.9"/>
<line x1="109.2" y1="1474.5" x2="119.4" y2="1474.5" stroke-width="3.6"/>
<line x1="109.2" y1="1398.7" x2="119.4" y2="1398.7" stroke-width="3.6"/>
<line x1="109.2" y1="1322.9" x2="119.4" y2="1322.9" stroke-width="3.6"/>
<line x1="109.2" y1="1247.1" x2="119.4" y2="1247.1" stroke-width="3.6"/>
<line x1="109.2" y1="1171.3" x2="119.4" y2="1171.3" stroke-width="3.6"/>
<line x1="109.2" y1="1095.5" x2="119.4" y2="1095.5" stroke-width="3.6"/>
<line x1="113.2" y1="1436.6" x2="119.4" y2="1436.6" stroke-width="3.6"/>
<line x1="113.2" y1="1360.8" x2="119.4" y2="1360.8" stroke-width="3.6"/>
<line x1="113.2" y1="1285" x2="119.4" y2="1285" stroke-width="3.6"/>
<line x1="113.2" y1="1209.2" x2="119.4" y2="1209.2" stroke-width="3.6"/>
<line x1="113.2" y1="1133.4" x2="119.4" y2="1133.4" stroke-width="3.6"/>
<line x1="670.3" y1="1459.5" x2="680.5" y2="1459.5" stroke-width="3.6"/>
<line x1="670.3" y1="1386.7" x2="680.5" y2="1386.7" stroke-width="3.6"/>
<line x1="670.3" y1="1313.9" x2="680.5" y2="1313.9" stroke-width="3.6"/>
<line x1="670.3" y1="1241.1" x2="680.5" y2="1241.1" stroke-width="3.6"/>
<line x1="670.3" y1="1168.3" x2="680.5" y2="1168.3" stroke-width="3.6"/>
<line x1="670.3" y1="1095.5" x2="680.5" y2="1095.5" stroke-width="3.6"/>
<line x1="670.3" y1="1423.1" x2="676.5" y2="1423.1" stroke-width="3.6"/>
<line x1="670.3" y1="1350.3" x2="676.5" y2="1350.3" stroke-width="3.6"/>
<line x1="670.3" y1="1277.5" x2="676.5" y2="1277.5" stroke-width="3.6"/>
<line x1="670.3" y1="1204.7" x2="676.5" y2="1204.7" stroke-width="3.6"/>
<line x1="670.3" y1="1131.9" x2="676.5" y2="1131.9" stroke-width="3.6"/>
<line x1="188" y1="1474.5" x2="188" y2="1484" stroke-width="3.6"/>
<line x1="325.5" y1="1474.5" x2="325.5" y2="1484" stroke-width="3.6"/>
<line x1="463.75" y1="1474.5" x2="463.75" y2="1484" stroke-width="3.6"/>
<line x1="601.75" y1="1474.5" x2="601.75" y2="1484" stroke-width="3.6"/>
<text x="97.48" y="1483.15" font-size="29" text-anchor="end">0</text>
<text x="97.48" y="1407.35" font-size="29" text-anchor="end">10</text>
<text x="97.48" y="1331.55" font-size="29" text-anchor="end">20</text>
<text x="97.48" y="1255.75" font-size="29" text-anchor="end">30</text>
<text x="97.48" y="1179.95" font-size="29" text-anchor="end">40</text>
<text x="97.48" y="1104.15" font-size="29" text-anchor="end">50</text>
<text x="685.83" y="1466.7" font-size="29">250</text>
<text x="685.83" y="1393.9" font-size="29">500</text>
<text x="685.83" y="1321.1" font-size="29">750</text>
<text x="685.83" y="1248.3" font-size="29">1000</text>
<text x="685.83" y="1175.5" font-size="29">1250</text>
<text x="685.83" y="1102.7" font-size="29">1500</text>
<text x="162.27" y="1524.7" font-size="29.5">8 am</text>
<text x="295.69" y="1524.7" font-size="29.5">12 am</text>
<text x="432.26" y="1524.7" font-size="29.5">4 pm</text>
<text x="564.47" y="1524.7" font-size="29.5">8 pm</text>
<text transform="translate(24.6,1428.8) rotate(-90)" font-size="28.99">Serum DHEA, nmol/L</text>
<text transform="translate(788.5,1440.06) rotate(-90)" font-size="29.05">Salivary DHEA, pmol/L</text>
<text transform="translate(133.61,1117) scale(0.91,1)" font-size="44.6" font-weight="bold">E</text>
<line x1="194.8" y1="1065" x2="235.4" y2="1065" stroke-width="4"/>
<rect x="209.4" y="1059.1" width="11.8" height="11.8" fill="currentColor" stroke="none"/>
<text x="240.38" y="1072.5" font-size="24.8">Serum DHEA</text>
<line x1="396.8" y1="1064.5" x2="406.1" y2="1064.5" stroke-width="4" stroke-linecap="butt"/>
<line x1="418" y1="1064.5" x2="428" y2="1064.5" stroke-width="4"/>
<circle cx="418" cy="1064.5" r="5.9" fill="currentColor" stroke="none"/>
<line x1="434" y1="1064.5" x2="436.8" y2="1064.5" stroke-width="4"/>
<text x="455.68" y="1069.8" font-size="24.8">Salivary DHEA</text>
<line x1="188" y1="1140.75" x2="188" y2="1221.25" stroke-width="2.8"/>
<line x1="182" y1="1140.75" x2="194" y2="1140.75" stroke-width="2.8"/>
<line x1="182" y1="1221.25" x2="194" y2="1221.25" stroke-width="2.8"/>
<line x1="325.5" y1="1279" x2="325.5" y2="1311.75" stroke-width="2.8"/>
<line x1="319.5" y1="1279" x2="331.5" y2="1279" stroke-width="2.8"/>
<line x1="319.5" y1="1311.75" x2="331.5" y2="1311.75" stroke-width="2.8"/>
<line x1="463.75" y1="1322.5" x2="463.75" y2="1357.5" stroke-width="2.8"/>
<line x1="457.75" y1="1322.5" x2="469.75" y2="1322.5" stroke-width="2.8"/>
<line x1="457.75" y1="1357.5" x2="469.75" y2="1357.5" stroke-width="2.8"/>
<line x1="601.75" y1="1309.5" x2="601.75" y2="1347.5" stroke-width="2.8"/>
<line x1="595.75" y1="1309.5" x2="607.75" y2="1309.5" stroke-width="2.8"/>
<line x1="595.75" y1="1347.5" x2="607.75" y2="1347.5" stroke-width="2.8"/>
<line x1="188" y1="1224.5" x2="188" y2="1268" stroke-width="2.8"/>
<line x1="182" y1="1224.5" x2="194" y2="1224.5" stroke-width="2.8"/>
<line x1="182" y1="1268" x2="194" y2="1268" stroke-width="2.8"/>
<line x1="325.5" y1="1337" x2="325.5" y2="1373.75" stroke-width="2.8"/>
<line x1="319.5" y1="1337" x2="331.5" y2="1337" stroke-width="2.8"/>
<line x1="319.5" y1="1373.75" x2="331.5" y2="1373.75" stroke-width="2.8"/>
<line x1="463.75" y1="1373" x2="463.75" y2="1400.5" stroke-width="2.8"/>
<line x1="457.75" y1="1373" x2="469.75" y2="1373" stroke-width="2.8"/>
<line x1="457.75" y1="1400.5" x2="469.75" y2="1400.5" stroke-width="2.8"/>
<line x1="601.75" y1="1364.5" x2="601.75" y2="1395.5" stroke-width="2.8"/>
<line x1="595.75" y1="1364.5" x2="607.75" y2="1364.5" stroke-width="2.8"/>
<line x1="595.75" y1="1395.5" x2="607.75" y2="1395.5" stroke-width="2.8"/>
<rect x="182.1" y="1177.1" width="11.8" height="11.8" fill="currentColor" stroke="none"/>
<rect x="319.6" y="1291.1" width="11.8" height="11.8" fill="currentColor" stroke="none"/>
<rect x="457.85" y="1334.1" width="11.8" height="11.8" fill="currentColor" stroke="none"/>
<rect x="595.85" y="1322.85" width="11.8" height="11.8" fill="currentColor" stroke="none"/>
<polyline points="188,1183 325.5,1297 463.75,1340 601.75,1328.75" stroke-width="4.0" stroke-linejoin="round"/>
<circle cx="188" cy="1245" r="5.9" fill="currentColor" stroke="none"/>
<circle cx="325.5" cy="1355.5" r="5.9" fill="currentColor" stroke="none"/>
<circle cx="463.75" cy="1386.25" r="5.9" fill="currentColor" stroke="none"/>
<circle cx="601.75" cy="1380" r="5.9" fill="currentColor" stroke="none"/>
<polyline points="188,1245 325.5,1355.5 463.75,1386.25 601.75,1380" stroke-width="4.0" stroke-linejoin="round" stroke-dasharray="11.01,7.33" stroke-dashoffset="15.47"/>
</g>
<g stroke="#222222" style="color:#222222">
<line x1="971.4" y1="1088.75" x2="971.4" y2="1480.45" stroke-width="3.4"/>
<line x1="1525.5" y1="1089.5" x2="1525.5" y2="1480.45" stroke-width="3.4"/>
<line x1="961.5" y1="1478.75" x2="1527.2" y2="1478.75" stroke-width="3.4"/>
<line x1="961.2" y1="1478.75" x2="971.4" y2="1478.75" stroke-width="3.6"/>
<line x1="961.2" y1="1414.04" x2="971.4" y2="1414.04" stroke-width="3.6"/>
<line x1="961.2" y1="1349.33" x2="971.4" y2="1349.33" stroke-width="3.6"/>
<line x1="961.2" y1="1284.62" x2="971.4" y2="1284.62" stroke-width="3.6"/>
<line x1="961.2" y1="1219.92" x2="971.4" y2="1219.92" stroke-width="3.6"/>
<line x1="961.2" y1="1155.21" x2="971.4" y2="1155.21" stroke-width="3.6"/>
<line x1="961.2" y1="1090.5" x2="971.4" y2="1090.5" stroke-width="3.6"/>
<line x1="965.2" y1="1446.4" x2="971.4" y2="1446.4" stroke-width="3.6"/>
<line x1="965.2" y1="1381.69" x2="971.4" y2="1381.69" stroke-width="3.6"/>
<line x1="965.2" y1="1316.98" x2="971.4" y2="1316.98" stroke-width="3.6"/>
<line x1="965.2" y1="1252.27" x2="971.4" y2="1252.27" stroke-width="3.6"/>
<line x1="965.2" y1="1187.56" x2="971.4" y2="1187.56" stroke-width="3.6"/>
<line x1="965.2" y1="1122.85" x2="971.4" y2="1122.85" stroke-width="3.6"/>
<line x1="1525.5" y1="1456.25" x2="1535.7" y2="1456.25" stroke-width="3.6"/>
<line x1="1525.5" y1="1364.69" x2="1535.7" y2="1364.69" stroke-width="3.6"/>
<line x1="1525.5" y1="1273.12" x2="1535.7" y2="1273.12" stroke-width="3.6"/>
<line x1="1525.5" y1="1181.56" x2="1535.7" y2="1181.56" stroke-width="3.6"/>
<line x1="1525.5" y1="1090" x2="1535.7" y2="1090" stroke-width="3.6"/>
<line x1="1525.5" y1="1410.47" x2="1531.7" y2="1410.47" stroke-width="3.6"/>
<line x1="1525.5" y1="1318.91" x2="1531.7" y2="1318.91" stroke-width="3.6"/>
<line x1="1525.5" y1="1227.34" x2="1531.7" y2="1227.34" stroke-width="3.6"/>
<line x1="1525.5" y1="1135.78" x2="1531.7" y2="1135.78" stroke-width="3.6"/>
<line x1="1040.25" y1="1478.75" x2="1040.25" y2="1488.25" stroke-width="3.6"/>
<line x1="1179" y1="1478.75" x2="1179" y2="1488.25" stroke-width="3.6"/>
<line x1="1317.75" y1="1478.75" x2="1317.75" y2="1488.25" stroke-width="3.6"/>
<line x1="1456" y1="1478.75" x2="1456" y2="1488.25" stroke-width="3.6"/>
<text x="957.7" y="1487.05" font-size="29" text-anchor="end">0.0</text>
<text x="957.7" y="1422.34" font-size="29" text-anchor="end">2.5</text>
<text x="957.7" y="1357.63" font-size="29" text-anchor="end">5.0</text>
<text x="957.7" y="1292.92" font-size="29" text-anchor="end">7.5</text>
<text x="957.7" y="1228.22" font-size="29" text-anchor="end">10.0</text>
<text x="957.7" y="1163.51" font-size="29" text-anchor="end">12.5</text>
<text x="957.7" y="1098.8" font-size="29" text-anchor="end">15.0</text>
<text x="1541.84" y="1466.05" font-size="29">100</text>
<text x="1541.84" y="1374.49" font-size="29">200</text>
<text x="1541.84" y="1282.92" font-size="29">300</text>
<text x="1541.84" y="1191.36" font-size="29">400</text>
<text x="1541.84" y="1099.8" font-size="29">500</text>
<text x="1026.37" y="1524.2" font-size="29.5">8 am</text>
<text x="1159.79" y="1524.2" font-size="29.5">12 am</text>
<text x="1296.06" y="1524.2" font-size="29.5">4 pm</text>
<text x="1427.87" y="1524.2" font-size="29.5">8 pm</text>
<text transform="translate(898.3,1428.8) rotate(-90)" font-size="28.99">Serum DHEA, nmol/L</text>
<text transform="translate(1640.5,1438.8) rotate(-90)" font-size="28.93">Salivary DHEA, pmol/L</text>
<text transform="translate(982.11,1117) scale(0.91,1)" font-size="44.6" font-weight="bold">F</text>
<line x1="1049.9" y1="1059.9" x2="1090.9" y2="1059.9" stroke-width="4"/>
<rect x="1065.4" y="1055.1" width="9.6" height="9.6" fill="none" stroke-width="2.6"/>
<text x="1107.98" y="1072.2" font-size="24.8">Serum DHEA</text>
<line x1="1263.3" y1="1060" x2="1272.9" y2="1060" stroke-width="4" stroke-linecap="butt"/>
<line x1="1281" y1="1060" x2="1292" y2="1060" stroke-width="4"/>
<circle cx="1281" cy="1060" r="5.4" fill="none" stroke-width="2.6"/>
<line x1="1300.1" y1="1060" x2="1302.9" y2="1060" stroke-width="4"/>
<text x="1322.78" y="1069.5" font-size="24.8">Salivary DHEA</text>
<line x1="1040.25" y1="1113" x2="1040.25" y2="1208" stroke-width="2.4"/>
<line x1="1034.25" y1="1113" x2="1046.25" y2="1113" stroke-width="2.4"/>
<line x1="1034.25" y1="1208" x2="1046.25" y2="1208" stroke-width="2.4"/>
<line x1="1179" y1="1227.5" x2="1179" y2="1324.5" stroke-width="2.4"/>
<line x1="1173" y1="1227.5" x2="1185" y2="1227.5" stroke-width="2.4"/>
<line x1="1173" y1="1324.5" x2="1185" y2="1324.5" stroke-width="2.4"/>
<line x1="1317.75" y1="1310.5" x2="1317.75" y2="1345.75" stroke-width="2.4"/>
<line x1="1311.75" y1="1310.5" x2="1323.75" y2="1310.5" stroke-width="2.4"/>
<line x1="1311.75" y1="1345.75" x2="1323.75" y2="1345.75" stroke-width="2.4"/>
<line x1="1456" y1="1330" x2="1456" y2="1392.5" stroke-width="2.4"/>
<line x1="1450" y1="1330" x2="1462" y2="1330" stroke-width="2.4"/>
<line x1="1450" y1="1392.5" x2="1462" y2="1392.5" stroke-width="2.4"/>
<line x1="1040.25" y1="1272.5" x2="1040.25" y2="1371.25" stroke-width="2.4"/>
<line x1="1034.25" y1="1272.5" x2="1046.25" y2="1272.5" stroke-width="2.4"/>
<line x1="1034.25" y1="1371.25" x2="1046.25" y2="1371.25" stroke-width="2.4"/>
<line x1="1179" y1="1336.25" x2="1179" y2="1422" stroke-width="2.4"/>
<line x1="1173" y1="1336.25" x2="1185" y2="1336.25" stroke-width="2.4"/>
<line x1="1173" y1="1422" x2="1185" y2="1422" stroke-width="2.4"/>
<line x1="1317.75" y1="1401.25" x2="1317.75" y2="1428.75" stroke-width="2.4"/>
<line x1="1311.75" y1="1401.25" x2="1323.75" y2="1401.25" stroke-width="2.4"/>
<line x1="1311.75" y1="1428.75" x2="1323.75" y2="1428.75" stroke-width="2.4"/>
<line x1="1456" y1="1391.25" x2="1456" y2="1448.75" stroke-width="2.4"/>
<line x1="1450" y1="1391.25" x2="1462" y2="1391.25" stroke-width="2.4"/>
<line x1="1450" y1="1448.75" x2="1462" y2="1448.75" stroke-width="2.4"/>
<rect x="1034.95" y="1155.2" width="10.6" height="10.6" fill="#fff" stroke-width="2.6"/>
<rect x="1173.7" y="1270.7" width="10.6" height="10.6" fill="#fff" stroke-width="2.6"/>
<rect x="1312.45" y="1323.45" width="10.6" height="10.6" fill="#fff" stroke-width="2.6"/>
<rect x="1450.7" y="1355.2" width="10.6" height="10.6" fill="#fff" stroke-width="2.6"/>
<polyline points="1040.25,1160.5 1179,1276 1317.75,1328.75 1456,1360.5" stroke-width="4.0" stroke-linejoin="round"/>
<circle cx="1040.25" cy="1322" r="5.4" fill="#fff" stroke-width="2.6"/>
<circle cx="1179" cy="1379.5" r="5.4" fill="#fff" stroke-width="2.6"/>
<circle cx="1317.75" cy="1415" r="5.4" fill="#fff" stroke-width="2.6"/>
<circle cx="1456" cy="1421.25" r="5.4" fill="#fff" stroke-width="2.6"/>
<polyline points="1040.25,1322 1179,1379.5 1317.75,1415 1456,1421.25" stroke-width="4.0" stroke-linejoin="round" stroke-dasharray="10.93,7.52" stroke-dashoffset="16.27"/>
</g>
<g stroke="#222222" style="color:#222222">
<line x1="98.3" y1="1581.25" x2="98.3" y2="1977.25" stroke-width="3.5"/>
<line x1="688" y1="1581.25" x2="688" y2="1977.25" stroke-width="3.5"/>
<line x1="88.75" y1="1975.5" x2="689.75" y2="1975.5" stroke-width="3.5"/>
<line x1="88.1" y1="1975.5" x2="98.3" y2="1975.5" stroke-width="3.6"/>
<line x1="88.1" y1="1844.33" x2="98.3" y2="1844.33" stroke-width="3.6"/>
<line x1="88.1" y1="1713.17" x2="98.3" y2="1713.17" stroke-width="3.6"/>
<line x1="88.1" y1="1582" x2="98.3" y2="1582" stroke-width="3.6"/>
<line x1="92.1" y1="1909.92" x2="98.3" y2="1909.92" stroke-width="3.6"/>
<line x1="92.1" y1="1778.75" x2="98.3" y2="1778.75" stroke-width="3.6"/>
<line x1="92.1" y1="1647.58" x2="98.3" y2="1647.58" stroke-width="3.6"/>
<line x1="688" y1="1975.5" x2="698.2" y2="1975.5" stroke-width="3.6"/>
<line x1="688" y1="1896.8" x2="698.2" y2="1896.8" stroke-width="3.6"/>
<line x1="688" y1="1818.1" x2="698.2" y2="1818.1" stroke-width="3.6"/>
<line x1="688" y1="1739.4" x2="698.2" y2="1739.4" stroke-width="3.6"/>
<line x1="688" y1="1660.7" x2="698.2" y2="1660.7" stroke-width="3.6"/>
<line x1="688" y1="1582" x2="698.2" y2="1582" stroke-width="3.6"/>
<line x1="688" y1="1936.15" x2="694.2" y2="1936.15" stroke-width="3.6"/>
<line x1="688" y1="1857.45" x2="694.2" y2="1857.45" stroke-width="3.6"/>
<line x1="688" y1="1778.75" x2="694.2" y2="1778.75" stroke-width="3.6"/>
<line x1="688" y1="1700.05" x2="694.2" y2="1700.05" stroke-width="3.6"/>
<line x1="688" y1="1621.35" x2="694.2" y2="1621.35" stroke-width="3.6"/>
<line x1="171.25" y1="1975.5" x2="171.25" y2="1985" stroke-width="3.6"/>
<line x1="318.75" y1="1975.5" x2="318.75" y2="1985" stroke-width="3.6"/>
<line x1="467" y1="1975.5" x2="467" y2="1985" stroke-width="3.6"/>
<line x1="614.5" y1="1975.5" x2="614.5" y2="1985" stroke-width="3.6"/>
<text x="83.84" y="1986.25" font-size="29" text-anchor="end">0</text>
<text x="83.84" y="1855.08" font-size="29" text-anchor="end">2</text>
<text x="83.84" y="1723.92" font-size="29" text-anchor="end">4</text>
<text x="83.84" y="1592.75" font-size="29" text-anchor="end">6</text>
<text x="705.55" y="1987.3" font-size="29">0</text>
<text x="705.55" y="1908.6" font-size="29">50</text>
<text x="705.55" y="1829.9" font-size="29">100</text>
<text x="705.55" y="1751.2" font-size="29">150</text>
<text x="705.55" y="1672.5" font-size="29">200</text>
<text x="705.55" y="1593.8" font-size="29">250</text>
<text x="159.67" y="2028" font-size="29.5">8 am</text>
<text x="295.99" y="2028" font-size="29.5">12 am</text>
<text x="447.26" y="2028" font-size="29.5">4 pm</text>
<text x="585.47" y="2028" font-size="29.5">8 pm</text>
<text transform="translate(36,2012.56) rotate(-90)" font-size="29.21">Serum 17OHProgesterone, nmol/L</text>
<text transform="translate(793,2010.06) rotate(-90)" font-size="29.11">Salivary 17OHProgesterone, nmol/L</text>
<text transform="translate(119.63,1613.75) scale(0.91,1)" font-size="44.6" font-weight="bold">G</text>
<line x1="175.7" y1="1561.9" x2="218.4" y2="1561.9" stroke-width="4"/>
<rect x="191.1" y="1556" width="11.8" height="11.8" fill="currentColor" stroke="none"/>
<text x="229.28" y="1569.6" font-size="24.8">Serum 17OHP</text>
<line x1="391.7" y1="1562" x2="402.3" y2="1562" stroke-width="4" stroke-linecap="butt"/>
<line x1="413.6" y1="1562" x2="424" y2="1562" stroke-width="4"/>
<circle cx="413.6" cy="1562" r="5.9" fill="currentColor" stroke="none"/>
<line x1="430.8" y1="1562" x2="433.6" y2="1562" stroke-width="4"/>
<text x="453.88" y="1571.9" font-size="24.8">Salivary 17OHP</text>
<line x1="171.25" y1="1605.75" x2="171.25" y2="1685" stroke-width="2.5"/>
<line x1="165.25" y1="1605.75" x2="177.25" y2="1605.75" stroke-width="2.5"/>
<line x1="165.25" y1="1685" x2="177.25" y2="1685" stroke-width="2.5"/>
<line x1="318.75" y1="1711.25" x2="318.75" y2="1775" stroke-width="2.5"/>
<line x1="312.75" y1="1711.25" x2="324.75" y2="1711.25" stroke-width="2.5"/>
<line x1="312.75" y1="1775" x2="324.75" y2="1775" stroke-width="2.5"/>
<line x1="467" y1="1806.25" x2="467" y2="1845.5" stroke-width="2.5"/>
<line x1="461" y1="1806.25" x2="473" y2="1806.25" stroke-width="2.5"/>
<line x1="461" y1="1845.5" x2="473" y2="1845.5" stroke-width="2.5"/>
<line x1="614.5" y1="1771" x2="614.5" y2="1834.5" stroke-width="2.5"/>
<line x1="608.5" y1="1771" x2="620.5" y2="1771" stroke-width="2.5"/>
<line x1="608.5" y1="1834.5" x2="620.5" y2="1834.5" stroke-width="2.5"/>
<line x1="171.25" y1="1688.75" x2="171.25" y2="1768.75" stroke-width="2.5"/>
<line x1="165.25" y1="1688.75" x2="177.25" y2="1688.75" stroke-width="2.5"/>
<line x1="165.25" y1="1768.75" x2="177.25" y2="1768.75" stroke-width="2.5"/>
<line x1="318.75" y1="1862.5" x2="318.75" y2="1887" stroke-width="2.5"/>
<line x1="312.75" y1="1862.5" x2="324.75" y2="1862.5" stroke-width="2.5"/>
<line x1="312.75" y1="1887" x2="324.75" y2="1887" stroke-width="2.5"/>
<line x1="467" y1="1896.25" x2="467" y2="1918" stroke-width="2.5"/>
<line x1="461" y1="1896.25" x2="473" y2="1896.25" stroke-width="2.5"/>
<line x1="461" y1="1918" x2="473" y2="1918" stroke-width="2.5"/>
<line x1="614.5" y1="1880" x2="614.5" y2="1916.25" stroke-width="2.5"/>
<line x1="608.5" y1="1880" x2="620.5" y2="1880" stroke-width="2.5"/>
<line x1="608.5" y1="1916.25" x2="620.5" y2="1916.25" stroke-width="2.5"/>
<rect x="165.35" y="1639.1" width="11.8" height="11.8" fill="currentColor" stroke="none"/>
<rect x="312.85" y="1737.1" width="11.8" height="11.8" fill="currentColor" stroke="none"/>
<rect x="461.1" y="1820.35" width="11.8" height="11.8" fill="currentColor" stroke="none"/>
<rect x="608.6" y="1796.6" width="11.8" height="11.8" fill="currentColor" stroke="none"/>
<polyline points="171.25,1645 318.75,1743 467,1826.25 614.5,1802.5" stroke-width="4.0" stroke-linejoin="round"/>
<circle cx="171.25" cy="1728.75" r="5.9" fill="currentColor" stroke="none"/>
<circle cx="318.75" cy="1875" r="5.9" fill="currentColor" stroke="none"/>
<circle cx="467" cy="1907.5" r="5.9" fill="currentColor" stroke="none"/>
<circle cx="614.5" cy="1898.75" r="5.9" fill="currentColor" stroke="none"/>
<polyline points="171.25,1728.75 318.75,1875 467,1907.5 614.5,1898.75" stroke-width="4.0" stroke-linejoin="round" stroke-dasharray="11.7,7.96" stroke-dashoffset="19.31"/>
</g>
<g stroke="#1f1f1f" style="color:#1f1f1f">
<line x1="988" y1="1592" x2="988" y2="1977.95" stroke-width="3.4"/>
<line x1="1531.4" y1="1592.5" x2="1531.4" y2="1977.95" stroke-width="3.4"/>
<line x1="977.75" y1="1976.25" x2="1533.1" y2="1976.25" stroke-width="3.4"/>
<line x1="977.8" y1="1976.25" x2="988" y2="1976.25" stroke-width="3.6"/>
<line x1="977.8" y1="1921.54" x2="988" y2="1921.54" stroke-width="3.6"/>
<line x1="977.8" y1="1866.82" x2="988" y2="1866.82" stroke-width="3.6"/>
<line x1="977.8" y1="1812.11" x2="988" y2="1812.11" stroke-width="3.6"/>
<line x1="977.8" y1="1757.39" x2="988" y2="1757.39" stroke-width="3.6"/>
<line x1="977.8" y1="1702.68" x2="988" y2="1702.68" stroke-width="3.6"/>
<line x1="977.8" y1="1647.96" x2="988" y2="1647.96" stroke-width="3.6"/>
<line x1="977.8" y1="1593.25" x2="988" y2="1593.25" stroke-width="3.6"/>
<line x1="981.8" y1="1948.89" x2="988" y2="1948.89" stroke-width="3.6"/>
<line x1="981.8" y1="1894.18" x2="988" y2="1894.18" stroke-width="3.6"/>
<line x1="981.8" y1="1839.46" x2="988" y2="1839.46" stroke-width="3.6"/>
<line x1="981.8" y1="1784.75" x2="988" y2="1784.75" stroke-width="3.6"/>
<line x1="981.8" y1="1730.04" x2="988" y2="1730.04" stroke-width="3.6"/>
<line x1="981.8" y1="1675.32" x2="988" y2="1675.32" stroke-width="3.6"/>
<line x1="981.8" y1="1620.61" x2="988" y2="1620.61" stroke-width="3.6"/>
<line x1="1531.4" y1="1899.8" x2="1541.6" y2="1899.8" stroke-width="3.6"/>
<line x1="1531.4" y1="1823.35" x2="1541.6" y2="1823.35" stroke-width="3.6"/>
<line x1="1531.4" y1="1746.9" x2="1541.6" y2="1746.9" stroke-width="3.6"/>
<line x1="1531.4" y1="1670.45" x2="1541.6" y2="1670.45" stroke-width="3.6"/>
<line x1="1531.4" y1="1594" x2="1541.6" y2="1594" stroke-width="3.6"/>
<line x1="1531.4" y1="1938.03" x2="1537.6" y2="1938.03" stroke-width="3.6"/>
<line x1="1531.4" y1="1861.58" x2="1537.6" y2="1861.58" stroke-width="3.6"/>
<line x1="1531.4" y1="1785.12" x2="1537.6" y2="1785.12" stroke-width="3.6"/>
<line x1="1531.4" y1="1708.67" x2="1537.6" y2="1708.67" stroke-width="3.6"/>
<line x1="1531.4" y1="1632.22" x2="1537.6" y2="1632.22" stroke-width="3.6"/>
<line x1="1056" y1="1976.25" x2="1056" y2="1985.75" stroke-width="3.6"/>
<line x1="1191.25" y1="1976.25" x2="1191.25" y2="1985.75" stroke-width="3.6"/>
<line x1="1327.75" y1="1976.25" x2="1327.75" y2="1985.75" stroke-width="3.6"/>
<line x1="1463" y1="1976.25" x2="1463" y2="1985.75" stroke-width="3.6"/>
<text x="975.2" y="1985.4" font-size="29" text-anchor="end">0.00</text>
<text x="975.2" y="1930.69" font-size="29" text-anchor="end">0.25</text>
<text x="975.2" y="1875.97" font-size="29" text-anchor="end">0.50</text>
<text x="975.2" y="1821.26" font-size="29" text-anchor="end">0.75</text>
<text x="975.2" y="1766.54" font-size="29" text-anchor="end">1.00</text>
<text x="975.2" y="1711.83" font-size="29" text-anchor="end">1.25</text>
<text x="975.2" y="1657.11" font-size="29" text-anchor="end">1.50</text>
<text x="975.2" y="1602.4" font-size="29" text-anchor="end">1.75</text>
<text x="1549.33" y="1910.7" font-size="29">25</text>
<text x="1549.33" y="1834.25" font-size="29">50</text>
<text x="1549.33" y="1757.8" font-size="29">75</text>
<text x="1549.33" y="1681.35" font-size="29">100</text>
<text x="1549.33" y="1604.9" font-size="29">125</text>
<text x="1026.37" y="2027.6" font-size="29.5">8 am</text>
<text x="1159.79" y="2027.6" font-size="29.5">12 am</text>
<text x="1296.06" y="2027.6" font-size="29.5">4 pm</text>
<text x="1427.87" y="2027.6" font-size="29.5">8 pm</text>
<text transform="translate(898.3,2006.31) rotate(-90)" font-size="29.05">Serum 17OHProgesterone, nmol/L</text>
<text transform="translate(1642,2027.56) rotate(-90)" font-size="29.11">Salivary 17OHProgesterone, pmol/L</text>
<text transform="translate(1011.36,1613.75) scale(0.91,1)" font-size="44.6" font-weight="bold">H</text>
<line x1="1071.2" y1="1565.1" x2="1110.8" y2="1565.1" stroke-width="4"/>
<rect x="1085.9" y="1560.3" width="9.6" height="9.6" fill="none" stroke-width="2.6"/>
<text x="1114.68" y="1570.7" font-size="24.8">Serum 17OHP</text>
<line x1="1275.3" y1="1565.4" x2="1285.4" y2="1565.4" stroke-width="4" stroke-linecap="butt"/>
<line x1="1294.3" y1="1565.4" x2="1304" y2="1565.4" stroke-width="4"/>
<circle cx="1294.3" cy="1565.4" r="5.4" fill="none" stroke-width="2.6"/>
<line x1="1311.3" y1="1565.4" x2="1314.1" y2="1565.4" stroke-width="4"/>
<text x="1333.68" y="1572" font-size="24.8">Salivary 17OHP</text>
<line x1="1056" y1="1630" x2="1056" y2="1781.25" stroke-width="2.5"/>
<line x1="1050" y1="1630" x2="1062" y2="1630" stroke-width="2.5"/>
<line x1="1050" y1="1781.25" x2="1062" y2="1781.25" stroke-width="2.5"/>
<line x1="1191.25" y1="1720.5" x2="1191.25" y2="1828" stroke-width="2.5"/>
<line x1="1185.25" y1="1720.5" x2="1197.25" y2="1720.5" stroke-width="2.5"/>
<line x1="1185.25" y1="1828" x2="1197.25" y2="1828" stroke-width="2.5"/>
<line x1="1327.75" y1="1815" x2="1327.75" y2="1847.5" stroke-width="2.5"/>
<line x1="1321.75" y1="1815" x2="1333.75" y2="1815" stroke-width="2.5"/>
<line x1="1321.75" y1="1847.5" x2="1333.75" y2="1847.5" stroke-width="2.5"/>
<line x1="1463" y1="1731.25" x2="1463" y2="1863" stroke-width="2.5"/>
<line x1="1457" y1="1731.25" x2="1469" y2="1731.25" stroke-width="2.5"/>
<line x1="1457" y1="1863" x2="1469" y2="1863" stroke-width="2.5"/>
<line x1="1056" y1="1824.5" x2="1056" y2="1911.25" stroke-width="2.5"/>
<line x1="1050" y1="1824.5" x2="1062" y2="1824.5" stroke-width="2.5"/>
<line x1="1050" y1="1911.25" x2="1062" y2="1911.25" stroke-width="2.5"/>
<line x1="1191.25" y1="1915.5" x2="1191.25" y2="1938.75" stroke-width="2.5"/>
<line x1="1185.25" y1="1915.5" x2="1197.25" y2="1915.5" stroke-width="2.5"/>
<line x1="1185.25" y1="1938.75" x2="1197.25" y2="1938.75" stroke-width="2.5"/>
<line x1="1327.75" y1="1931" x2="1327.75" y2="1942" stroke-width="2.5"/>
<line x1="1321.75" y1="1931" x2="1333.75" y2="1931" stroke-width="2.5"/>
<line x1="1321.75" y1="1942" x2="1333.75" y2="1942" stroke-width="2.5"/>
<line x1="1463" y1="1913.75" x2="1463" y2="1948.75" stroke-width="2.5"/>
<line x1="1457" y1="1913.75" x2="1469" y2="1913.75" stroke-width="2.5"/>
<line x1="1457" y1="1948.75" x2="1469" y2="1948.75" stroke-width="2.5"/>
<rect x="1050.7" y="1700.95" width="10.6" height="10.6" fill="#fff" stroke-width="2.6"/>
<rect x="1185.95" y="1769.2" width="10.6" height="10.6" fill="#fff" stroke-width="2.6"/>
<rect x="1322.45" y="1825.95" width="10.6" height="10.6" fill="#fff" stroke-width="2.6"/>
<rect x="1457.7" y="1791.7" width="10.6" height="10.6" fill="#fff" stroke-width="2.6"/>
<polyline points="1056,1706.25 1191.25,1774.5 1327.75,1831.25 1463,1797" stroke-width="4.0" stroke-linejoin="round"/>
<circle cx="1056" cy="1868.75" r="5.4" fill="#fff" stroke-width="2.6"/>
<circle cx="1191.25" cy="1927.5" r="5.4" fill="#fff" stroke-width="2.6"/>
<circle cx="1327.75" cy="1936.25" r="5.4" fill="#fff" stroke-width="2.6"/>
<circle cx="1463" cy="1931.25" r="5.4" fill="#fff" stroke-width="2.6"/>
<polyline points="1056,1868.75 1191.25,1927.5 1327.75,1936.25 1463,1931.25" stroke-width="4.0" stroke-linejoin="round" stroke-dasharray="10.71,7.26" stroke-dashoffset="17.46"/>
</g>
</g>
</svg>
</body></html>
